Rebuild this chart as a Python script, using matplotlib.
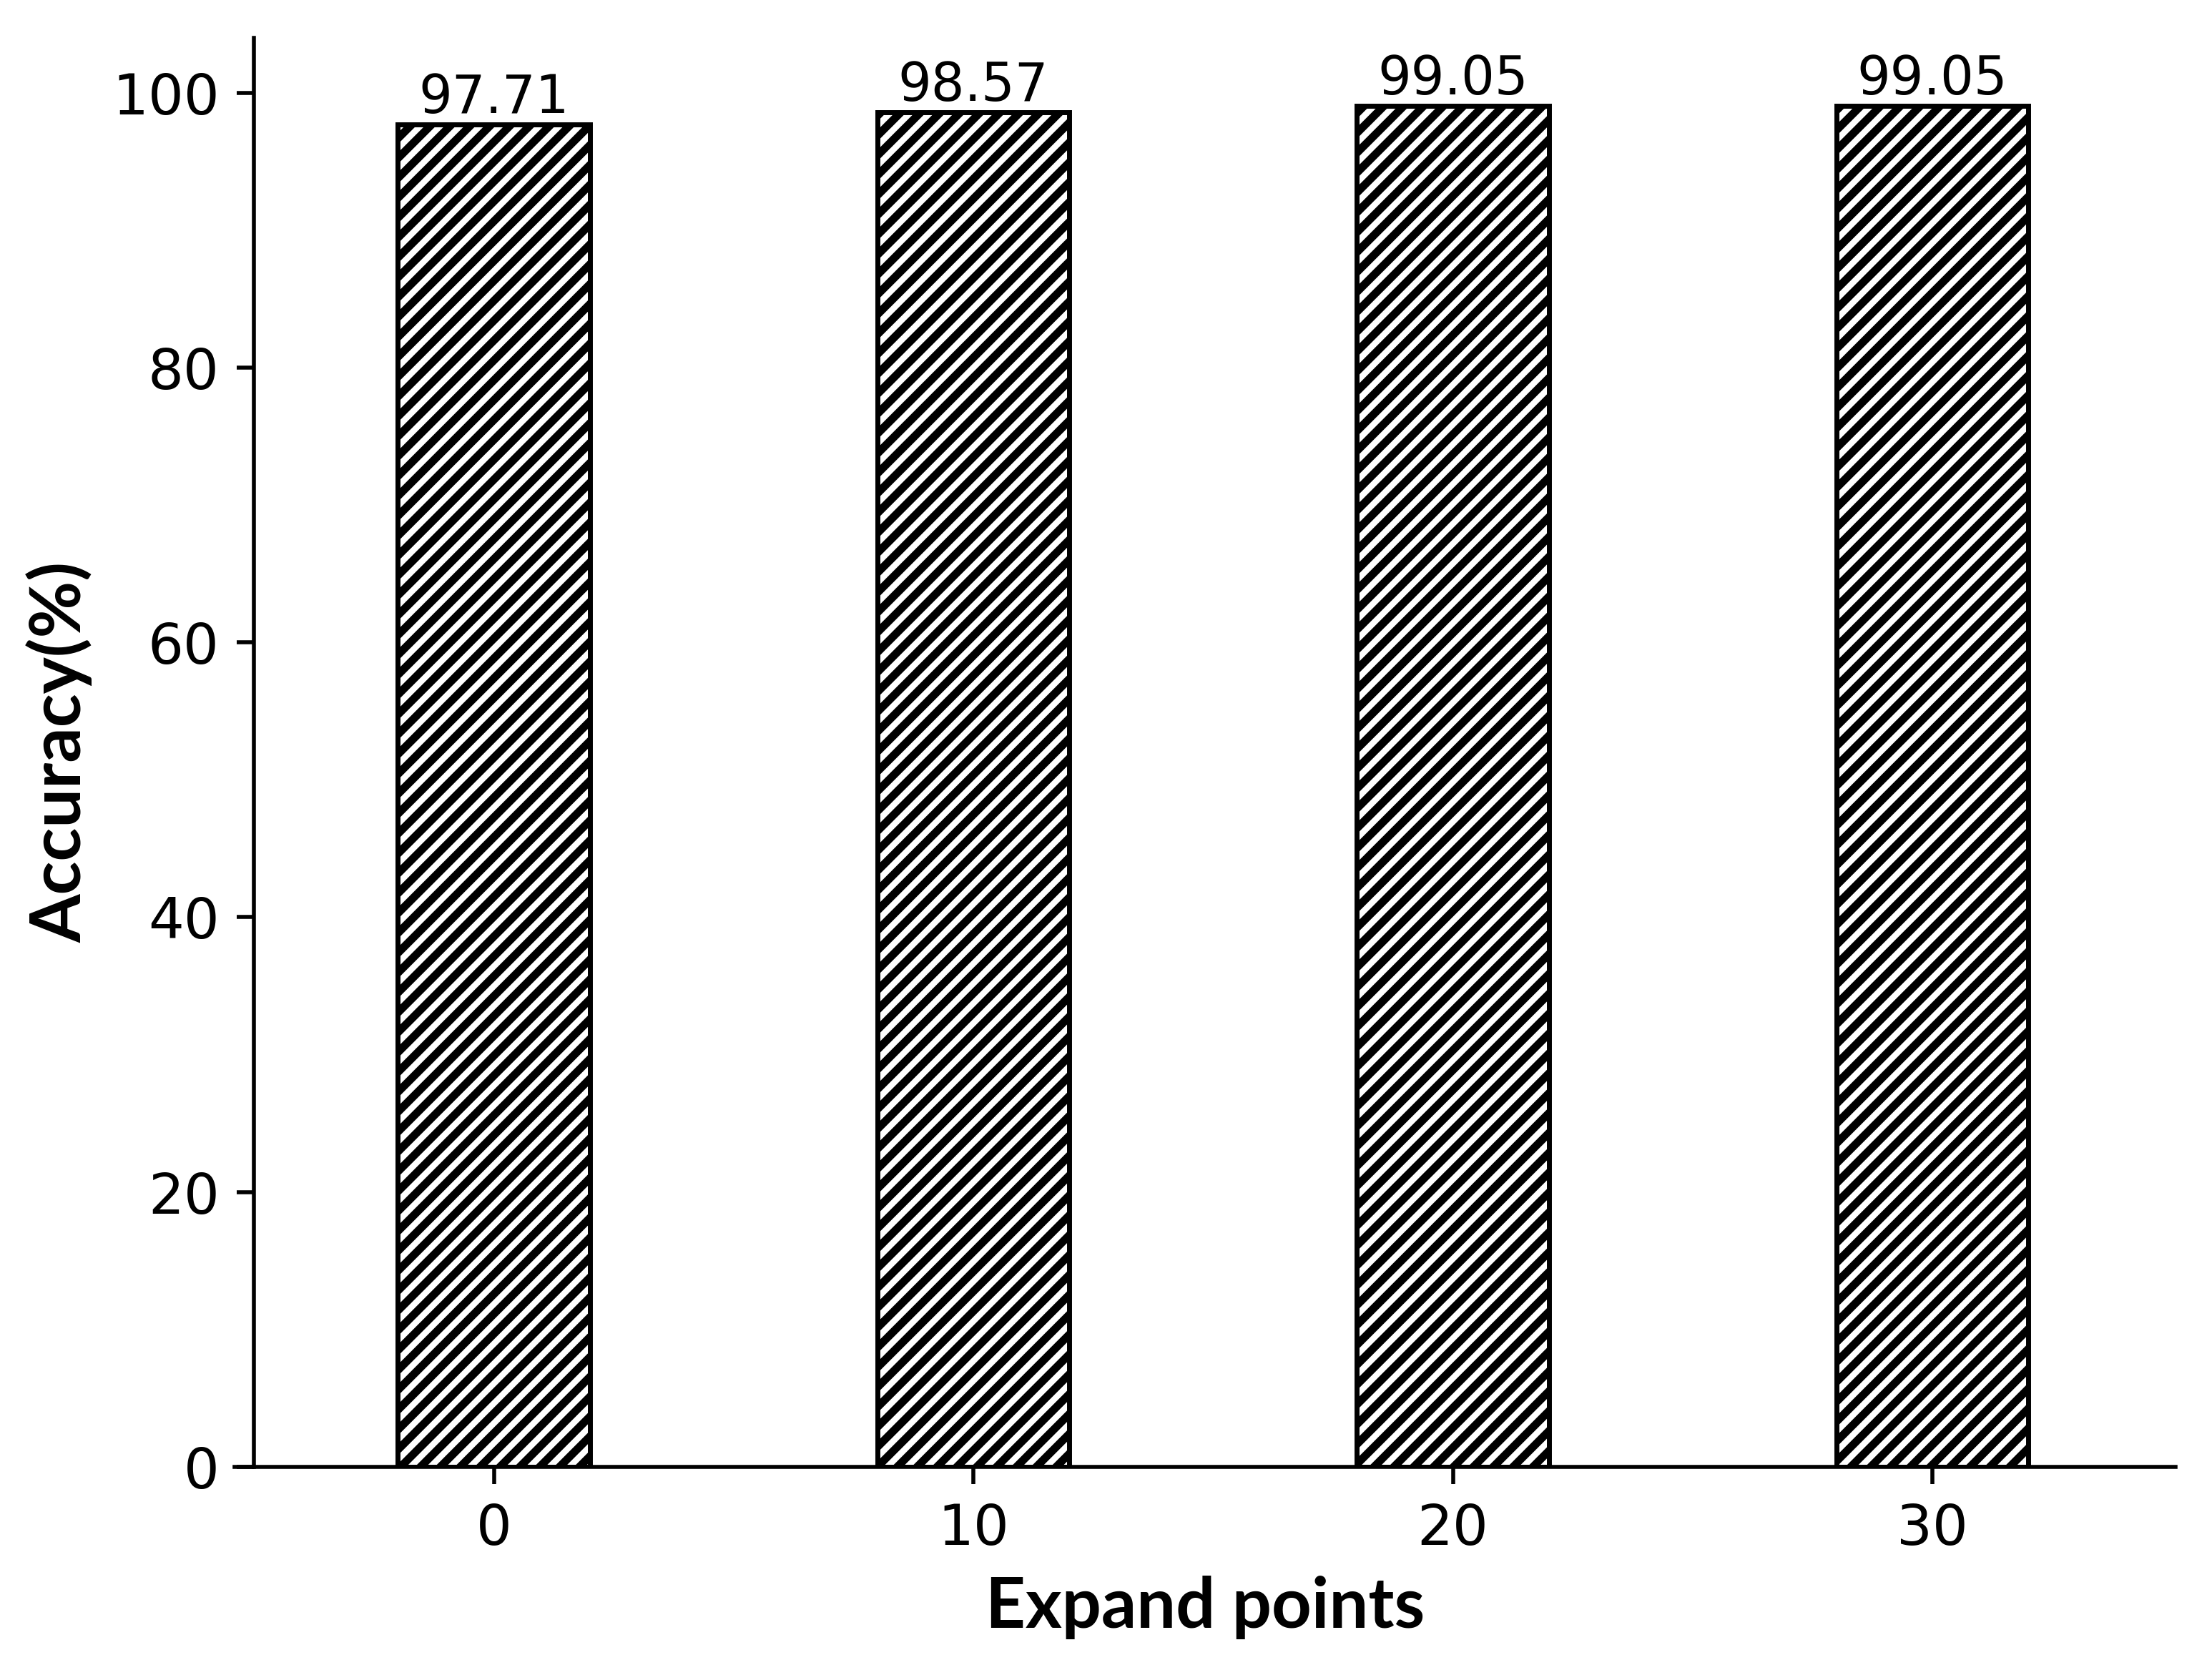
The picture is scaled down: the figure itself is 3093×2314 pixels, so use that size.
import matplotlib.pyplot as plt

# data
expand_points = [0, 10, 20, 30]
accuracy = [97.71, 98.57, 99.05, 99.05]

plt.rcParams['font.family'] = 'DejaVu Sans'
plt.rcParams['hatch.linewidth'] = 1.6

fig = plt.figure(figsize=(3093 / 500, 2314 / 500), dpi=500)
ax = fig.add_axes([0.1060, 0.1137, 0.8775, 0.8634])

bars = ax.bar(expand_points, accuracy, width=4, color='white',
              edgecolor='black', linewidth=1.0, hatch='//////')

# value labels above bars
for rect, val in zip(bars, accuracy):
    ax.text(rect.get_x() + rect.get_width() / 2, rect.get_height(),
            '{:.2f}'.format(val), ha='center', va='bottom', fontsize=10.6)

ax.set_xlim(-5.41, 35.07)
ax.set_ylim(0, 104)
ax.set_xticks(expand_points)
ax.set_yticks([0, 20, 40, 60, 80, 100])
ax.tick_params(labelsize=11.3)

ax.spines['top'].set_visible(False)
ax.spines['right'].set_visible(False)
ax.spines['left'].set_position(('data', -5))

ax.set_xlabel('Expand points', fontsize=14, fontweight='bold', family='Lato')
ax.set_ylabel('Accuracy(%)', fontsize=14, fontweight='bold', family='Lato')

fig.savefig('out.png', dpi=500)
